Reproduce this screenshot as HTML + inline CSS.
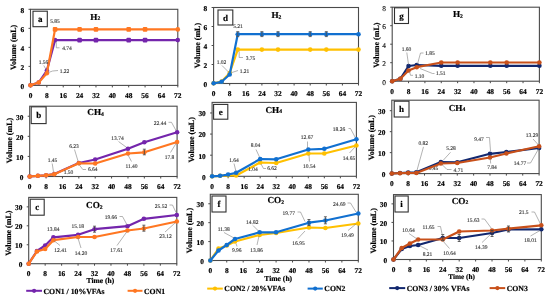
<!DOCTYPE html>
<html><head><meta charset="utf-8"><style>
html,body{margin:0;padding:0;background:#fff;width:550px;height:299px;overflow:hidden}
svg{display:block;will-change:transform;text-rendering:geometricPrecision}
</style></head><body>
<svg width="550" height="299" viewBox="0 0 550 299" font-family="'Liberation Serif', serif">
<rect width="550" height="299" fill="#fff"/>
<rect x="30.5" y="9.3" width="147.30" height="76.10" fill="none" stroke="#4a4a4a" stroke-width="1.1"/>
<line x1="28.50" y1="85.40" x2="30.5" y2="85.40" stroke="#4a4a4a" stroke-width="1"/>
<text x="24.20" y="88.80" font-size="7.4" font-weight="bold" text-anchor="end" fill="#000" stroke="#000" stroke-width="0.18" >0</text>
<line x1="28.50" y1="66.38" x2="30.5" y2="66.38" stroke="#4a4a4a" stroke-width="1"/>
<text x="24.20" y="69.78" font-size="7.4" font-weight="bold" text-anchor="end" fill="#000" stroke="#000" stroke-width="0.18" >2</text>
<line x1="28.50" y1="47.35" x2="30.5" y2="47.35" stroke="#4a4a4a" stroke-width="1"/>
<text x="24.20" y="50.75" font-size="7.4" font-weight="bold" text-anchor="end" fill="#000" stroke="#000" stroke-width="0.18" >4</text>
<line x1="28.50" y1="28.33" x2="30.5" y2="28.33" stroke="#4a4a4a" stroke-width="1"/>
<text x="24.20" y="31.73" font-size="7.4" font-weight="bold" text-anchor="end" fill="#000" stroke="#000" stroke-width="0.18" >6</text>
<line x1="28.50" y1="9.30" x2="30.5" y2="9.30" stroke="#4a4a4a" stroke-width="1"/>
<text x="24.20" y="12.70" font-size="7.4" font-weight="bold" text-anchor="end" fill="#000" stroke="#000" stroke-width="0.18" >8</text>
<line x1="30.50" y1="85.4" x2="30.50" y2="87.40" stroke="#4a4a4a" stroke-width="1"/>
<text x="30.50" y="98.30" font-size="7.4" font-weight="bold" text-anchor="middle" fill="#000" stroke="#000" stroke-width="0.18" >0</text>
<line x1="46.87" y1="85.4" x2="46.87" y2="87.40" stroke="#4a4a4a" stroke-width="1"/>
<text x="46.87" y="98.30" font-size="7.4" font-weight="bold" text-anchor="middle" fill="#000" stroke="#000" stroke-width="0.18" >8</text>
<line x1="63.23" y1="85.4" x2="63.23" y2="87.40" stroke="#4a4a4a" stroke-width="1"/>
<text x="63.23" y="98.30" font-size="7.4" font-weight="bold" text-anchor="middle" fill="#000" stroke="#000" stroke-width="0.18" >16</text>
<line x1="79.60" y1="85.4" x2="79.60" y2="87.40" stroke="#4a4a4a" stroke-width="1"/>
<text x="79.60" y="98.30" font-size="7.4" font-weight="bold" text-anchor="middle" fill="#000" stroke="#000" stroke-width="0.18" >24</text>
<line x1="95.97" y1="85.4" x2="95.97" y2="87.40" stroke="#4a4a4a" stroke-width="1"/>
<text x="95.97" y="98.30" font-size="7.4" font-weight="bold" text-anchor="middle" fill="#000" stroke="#000" stroke-width="0.18" >32</text>
<line x1="112.33" y1="85.4" x2="112.33" y2="87.40" stroke="#4a4a4a" stroke-width="1"/>
<text x="112.33" y="98.30" font-size="7.4" font-weight="bold" text-anchor="middle" fill="#000" stroke="#000" stroke-width="0.18" >40</text>
<line x1="128.70" y1="85.4" x2="128.70" y2="87.40" stroke="#4a4a4a" stroke-width="1"/>
<text x="128.70" y="98.30" font-size="7.4" font-weight="bold" text-anchor="middle" fill="#000" stroke="#000" stroke-width="0.18" >48</text>
<line x1="145.07" y1="85.4" x2="145.07" y2="87.40" stroke="#4a4a4a" stroke-width="1"/>
<text x="145.07" y="98.30" font-size="7.4" font-weight="bold" text-anchor="middle" fill="#000" stroke="#000" stroke-width="0.18" >56</text>
<line x1="161.43" y1="85.4" x2="161.43" y2="87.40" stroke="#4a4a4a" stroke-width="1"/>
<text x="161.43" y="98.30" font-size="7.4" font-weight="bold" text-anchor="middle" fill="#000" stroke="#000" stroke-width="0.18" >64</text>
<line x1="177.80" y1="85.4" x2="177.80" y2="87.40" stroke="#4a4a4a" stroke-width="1"/>
<text x="177.80" y="98.30" font-size="7.4" font-weight="bold" text-anchor="middle" fill="#000" stroke="#000" stroke-width="0.18" >72</text>
<text x="14.0" y="47.4" font-size="8" font-weight="bold" text-anchor="middle" transform="rotate(-90 14.0 47.4)" dominant-baseline="central" stroke="#000" stroke-width="0.18">Volume (mL)</text>
<rect x="213.6" y="7.5" width="144.90" height="76.00" fill="none" stroke="#4a4a4a" stroke-width="1.1"/>
<line x1="211.60" y1="83.50" x2="213.6" y2="83.50" stroke="#4a4a4a" stroke-width="1"/>
<text x="207.30" y="86.90" font-size="7.4" font-weight="bold" text-anchor="end" fill="#000" stroke="#000" stroke-width="0.18" >0</text>
<line x1="211.60" y1="64.50" x2="213.6" y2="64.50" stroke="#4a4a4a" stroke-width="1"/>
<text x="207.30" y="67.90" font-size="7.4" font-weight="bold" text-anchor="end" fill="#000" stroke="#000" stroke-width="0.18" >2</text>
<line x1="211.60" y1="45.50" x2="213.6" y2="45.50" stroke="#4a4a4a" stroke-width="1"/>
<text x="207.30" y="48.90" font-size="7.4" font-weight="bold" text-anchor="end" fill="#000" stroke="#000" stroke-width="0.18" >4</text>
<line x1="211.60" y1="26.50" x2="213.6" y2="26.50" stroke="#4a4a4a" stroke-width="1"/>
<text x="207.30" y="29.90" font-size="7.4" font-weight="bold" text-anchor="end" fill="#000" stroke="#000" stroke-width="0.18" >6</text>
<line x1="211.60" y1="7.50" x2="213.6" y2="7.50" stroke="#4a4a4a" stroke-width="1"/>
<text x="207.30" y="10.90" font-size="7.4" font-weight="bold" text-anchor="end" fill="#000" stroke="#000" stroke-width="0.18" >8</text>
<line x1="213.60" y1="83.5" x2="213.60" y2="85.50" stroke="#4a4a4a" stroke-width="1"/>
<text x="213.60" y="96.40" font-size="7.4" font-weight="bold" text-anchor="middle" fill="#000" stroke="#000" stroke-width="0.18" >0</text>
<line x1="229.70" y1="83.5" x2="229.70" y2="85.50" stroke="#4a4a4a" stroke-width="1"/>
<text x="229.70" y="96.40" font-size="7.4" font-weight="bold" text-anchor="middle" fill="#000" stroke="#000" stroke-width="0.18" >8</text>
<line x1="245.80" y1="83.5" x2="245.80" y2="85.50" stroke="#4a4a4a" stroke-width="1"/>
<text x="245.80" y="96.40" font-size="7.4" font-weight="bold" text-anchor="middle" fill="#000" stroke="#000" stroke-width="0.18" >16</text>
<line x1="261.90" y1="83.5" x2="261.90" y2="85.50" stroke="#4a4a4a" stroke-width="1"/>
<text x="261.90" y="96.40" font-size="7.4" font-weight="bold" text-anchor="middle" fill="#000" stroke="#000" stroke-width="0.18" >24</text>
<line x1="278.00" y1="83.5" x2="278.00" y2="85.50" stroke="#4a4a4a" stroke-width="1"/>
<text x="278.00" y="96.40" font-size="7.4" font-weight="bold" text-anchor="middle" fill="#000" stroke="#000" stroke-width="0.18" >32</text>
<line x1="294.10" y1="83.5" x2="294.10" y2="85.50" stroke="#4a4a4a" stroke-width="1"/>
<text x="294.10" y="96.40" font-size="7.4" font-weight="bold" text-anchor="middle" fill="#000" stroke="#000" stroke-width="0.18" >40</text>
<line x1="310.20" y1="83.5" x2="310.20" y2="85.50" stroke="#4a4a4a" stroke-width="1"/>
<text x="310.20" y="96.40" font-size="7.4" font-weight="bold" text-anchor="middle" fill="#000" stroke="#000" stroke-width="0.18" >48</text>
<line x1="326.30" y1="83.5" x2="326.30" y2="85.50" stroke="#4a4a4a" stroke-width="1"/>
<text x="326.30" y="96.40" font-size="7.4" font-weight="bold" text-anchor="middle" fill="#000" stroke="#000" stroke-width="0.18" >56</text>
<line x1="342.40" y1="83.5" x2="342.40" y2="85.50" stroke="#4a4a4a" stroke-width="1"/>
<text x="342.40" y="96.40" font-size="7.4" font-weight="bold" text-anchor="middle" fill="#000" stroke="#000" stroke-width="0.18" >64</text>
<line x1="358.50" y1="83.5" x2="358.50" y2="85.50" stroke="#4a4a4a" stroke-width="1"/>
<text x="358.50" y="96.40" font-size="7.4" font-weight="bold" text-anchor="middle" fill="#000" stroke="#000" stroke-width="0.18" >72</text>
<text x="197.9" y="45.5" font-size="8" font-weight="bold" text-anchor="middle" transform="rotate(-90 197.9 45.5)" dominant-baseline="central" stroke="#000" stroke-width="0.18">Volume (mL)</text>
<rect x="392.2" y="7.2" width="147.20" height="74.00" fill="none" stroke="#4a4a4a" stroke-width="1.1"/>
<line x1="390.20" y1="81.20" x2="392.2" y2="81.20" stroke="#4a4a4a" stroke-width="1"/>
<text x="385.90" y="84.60" font-size="7.4" font-weight="normal" text-anchor="end" fill="#000" stroke="#000" stroke-width="0.1" >0</text>
<line x1="390.20" y1="62.70" x2="392.2" y2="62.70" stroke="#4a4a4a" stroke-width="1"/>
<text x="385.90" y="66.10" font-size="7.4" font-weight="normal" text-anchor="end" fill="#000" stroke="#000" stroke-width="0.1" >2</text>
<line x1="390.20" y1="44.20" x2="392.2" y2="44.20" stroke="#4a4a4a" stroke-width="1"/>
<text x="385.90" y="47.60" font-size="7.4" font-weight="normal" text-anchor="end" fill="#000" stroke="#000" stroke-width="0.1" >4</text>
<line x1="390.20" y1="25.70" x2="392.2" y2="25.70" stroke="#4a4a4a" stroke-width="1"/>
<text x="385.90" y="29.10" font-size="7.4" font-weight="normal" text-anchor="end" fill="#000" stroke="#000" stroke-width="0.1" >6</text>
<line x1="390.20" y1="7.20" x2="392.2" y2="7.20" stroke="#4a4a4a" stroke-width="1"/>
<text x="385.90" y="10.60" font-size="7.4" font-weight="normal" text-anchor="end" fill="#000" stroke="#000" stroke-width="0.1" >8</text>
<line x1="392.20" y1="81.2" x2="392.20" y2="83.20" stroke="#4a4a4a" stroke-width="1"/>
<text x="392.20" y="94.10" font-size="7.4" font-weight="bold" text-anchor="middle" fill="#000" stroke="#000" stroke-width="0.18" >0</text>
<line x1="408.56" y1="81.2" x2="408.56" y2="83.20" stroke="#4a4a4a" stroke-width="1"/>
<text x="408.56" y="94.10" font-size="7.4" font-weight="bold" text-anchor="middle" fill="#000" stroke="#000" stroke-width="0.18" >8</text>
<line x1="424.91" y1="81.2" x2="424.91" y2="83.20" stroke="#4a4a4a" stroke-width="1"/>
<text x="424.91" y="94.10" font-size="7.4" font-weight="bold" text-anchor="middle" fill="#000" stroke="#000" stroke-width="0.18" >16</text>
<line x1="441.27" y1="81.2" x2="441.27" y2="83.20" stroke="#4a4a4a" stroke-width="1"/>
<text x="441.27" y="94.10" font-size="7.4" font-weight="bold" text-anchor="middle" fill="#000" stroke="#000" stroke-width="0.18" >24</text>
<line x1="457.62" y1="81.2" x2="457.62" y2="83.20" stroke="#4a4a4a" stroke-width="1"/>
<text x="457.62" y="94.10" font-size="7.4" font-weight="bold" text-anchor="middle" fill="#000" stroke="#000" stroke-width="0.18" >32</text>
<line x1="473.98" y1="81.2" x2="473.98" y2="83.20" stroke="#4a4a4a" stroke-width="1"/>
<text x="473.98" y="94.10" font-size="7.4" font-weight="bold" text-anchor="middle" fill="#000" stroke="#000" stroke-width="0.18" >40</text>
<line x1="490.33" y1="81.2" x2="490.33" y2="83.20" stroke="#4a4a4a" stroke-width="1"/>
<text x="490.33" y="94.10" font-size="7.4" font-weight="bold" text-anchor="middle" fill="#000" stroke="#000" stroke-width="0.18" >48</text>
<line x1="506.69" y1="81.2" x2="506.69" y2="83.20" stroke="#4a4a4a" stroke-width="1"/>
<text x="506.69" y="94.10" font-size="7.4" font-weight="bold" text-anchor="middle" fill="#000" stroke="#000" stroke-width="0.18" >56</text>
<line x1="523.04" y1="81.2" x2="523.04" y2="83.20" stroke="#4a4a4a" stroke-width="1"/>
<text x="523.04" y="94.10" font-size="7.4" font-weight="bold" text-anchor="middle" fill="#000" stroke="#000" stroke-width="0.18" >64</text>
<line x1="539.40" y1="81.2" x2="539.40" y2="83.20" stroke="#4a4a4a" stroke-width="1"/>
<text x="539.40" y="94.10" font-size="7.4" font-weight="bold" text-anchor="middle" fill="#000" stroke="#000" stroke-width="0.18" >72</text>
<text x="376.3" y="45.2" font-size="8" font-weight="bold" text-anchor="middle" transform="rotate(-90 376.3 45.2)" dominant-baseline="central" stroke="#000" stroke-width="0.18">Volume (mL)</text>
<rect x="29.7" y="106.2" width="147.40" height="70.30" fill="none" stroke="#4a4a4a" stroke-width="1.1"/>
<line x1="27.70" y1="176.50" x2="29.7" y2="176.50" stroke="#4a4a4a" stroke-width="1"/>
<text x="23.40" y="179.90" font-size="7.4" font-weight="bold" text-anchor="end" fill="#000" stroke="#000" stroke-width="0.18" >0</text>
<line x1="27.70" y1="156.41" x2="29.7" y2="156.41" stroke="#4a4a4a" stroke-width="1"/>
<text x="23.40" y="159.81" font-size="7.4" font-weight="bold" text-anchor="end" fill="#000" stroke="#000" stroke-width="0.18" >10</text>
<line x1="27.70" y1="136.33" x2="29.7" y2="136.33" stroke="#4a4a4a" stroke-width="1"/>
<text x="23.40" y="139.73" font-size="7.4" font-weight="bold" text-anchor="end" fill="#000" stroke="#000" stroke-width="0.18" >20</text>
<line x1="27.70" y1="116.24" x2="29.7" y2="116.24" stroke="#4a4a4a" stroke-width="1"/>
<text x="23.40" y="119.64" font-size="7.4" font-weight="bold" text-anchor="end" fill="#000" stroke="#000" stroke-width="0.18" >30</text>
<line x1="29.70" y1="176.5" x2="29.70" y2="178.50" stroke="#4a4a4a" stroke-width="1"/>
<text x="29.70" y="189.40" font-size="7.4" font-weight="bold" text-anchor="middle" fill="#000" stroke="#000" stroke-width="0.18" >0</text>
<line x1="46.08" y1="176.5" x2="46.08" y2="178.50" stroke="#4a4a4a" stroke-width="1"/>
<text x="46.08" y="189.40" font-size="7.4" font-weight="bold" text-anchor="middle" fill="#000" stroke="#000" stroke-width="0.18" >8</text>
<line x1="62.46" y1="176.5" x2="62.46" y2="178.50" stroke="#4a4a4a" stroke-width="1"/>
<text x="62.46" y="189.40" font-size="7.4" font-weight="bold" text-anchor="middle" fill="#000" stroke="#000" stroke-width="0.18" >16</text>
<line x1="78.83" y1="176.5" x2="78.83" y2="178.50" stroke="#4a4a4a" stroke-width="1"/>
<text x="78.83" y="189.40" font-size="7.4" font-weight="bold" text-anchor="middle" fill="#000" stroke="#000" stroke-width="0.18" >24</text>
<line x1="95.21" y1="176.5" x2="95.21" y2="178.50" stroke="#4a4a4a" stroke-width="1"/>
<text x="95.21" y="189.40" font-size="7.4" font-weight="bold" text-anchor="middle" fill="#000" stroke="#000" stroke-width="0.18" >32</text>
<line x1="111.59" y1="176.5" x2="111.59" y2="178.50" stroke="#4a4a4a" stroke-width="1"/>
<text x="111.59" y="189.40" font-size="7.4" font-weight="bold" text-anchor="middle" fill="#000" stroke="#000" stroke-width="0.18" >40</text>
<line x1="127.97" y1="176.5" x2="127.97" y2="178.50" stroke="#4a4a4a" stroke-width="1"/>
<text x="127.97" y="189.40" font-size="7.4" font-weight="bold" text-anchor="middle" fill="#000" stroke="#000" stroke-width="0.18" >48</text>
<line x1="144.34" y1="176.5" x2="144.34" y2="178.50" stroke="#4a4a4a" stroke-width="1"/>
<text x="144.34" y="189.40" font-size="7.4" font-weight="bold" text-anchor="middle" fill="#000" stroke="#000" stroke-width="0.18" >56</text>
<line x1="160.72" y1="176.5" x2="160.72" y2="178.50" stroke="#4a4a4a" stroke-width="1"/>
<text x="160.72" y="189.40" font-size="7.4" font-weight="bold" text-anchor="middle" fill="#000" stroke="#000" stroke-width="0.18" >64</text>
<line x1="177.10" y1="176.5" x2="177.10" y2="178.50" stroke="#4a4a4a" stroke-width="1"/>
<text x="177.10" y="189.40" font-size="7.4" font-weight="bold" text-anchor="middle" fill="#000" stroke="#000" stroke-width="0.18" >72</text>
<text x="9.6" y="140.5" font-size="8" font-weight="bold" text-anchor="middle" transform="rotate(-90 9.6 140.5)" dominant-baseline="central" stroke="#000" stroke-width="0.18">Volume (mL)</text>
<rect x="212.1" y="102.4" width="144.30" height="73.90" fill="none" stroke="#4a4a4a" stroke-width="1.1"/>
<line x1="210.10" y1="176.30" x2="212.1" y2="176.30" stroke="#4a4a4a" stroke-width="1"/>
<text x="205.80" y="179.70" font-size="7.4" font-weight="bold" text-anchor="end" fill="#000" stroke="#000" stroke-width="0.18" >0</text>
<line x1="210.10" y1="155.19" x2="212.1" y2="155.19" stroke="#4a4a4a" stroke-width="1"/>
<text x="205.80" y="158.59" font-size="7.4" font-weight="bold" text-anchor="end" fill="#000" stroke="#000" stroke-width="0.18" >10</text>
<line x1="210.10" y1="134.07" x2="212.1" y2="134.07" stroke="#4a4a4a" stroke-width="1"/>
<text x="205.80" y="137.47" font-size="7.4" font-weight="bold" text-anchor="end" fill="#000" stroke="#000" stroke-width="0.18" >20</text>
<line x1="210.10" y1="112.96" x2="212.1" y2="112.96" stroke="#4a4a4a" stroke-width="1"/>
<text x="205.80" y="116.36" font-size="7.4" font-weight="bold" text-anchor="end" fill="#000" stroke="#000" stroke-width="0.18" >30</text>
<line x1="212.10" y1="176.3" x2="212.10" y2="178.30" stroke="#4a4a4a" stroke-width="1"/>
<text x="212.10" y="189.20" font-size="7.4" font-weight="bold" text-anchor="middle" fill="#000" stroke="#000" stroke-width="0.18" >0</text>
<line x1="228.13" y1="176.3" x2="228.13" y2="178.30" stroke="#4a4a4a" stroke-width="1"/>
<text x="228.13" y="189.20" font-size="7.4" font-weight="bold" text-anchor="middle" fill="#000" stroke="#000" stroke-width="0.18" >8</text>
<line x1="244.17" y1="176.3" x2="244.17" y2="178.30" stroke="#4a4a4a" stroke-width="1"/>
<text x="244.17" y="189.20" font-size="7.4" font-weight="bold" text-anchor="middle" fill="#000" stroke="#000" stroke-width="0.18" >16</text>
<line x1="260.20" y1="176.3" x2="260.20" y2="178.30" stroke="#4a4a4a" stroke-width="1"/>
<text x="260.20" y="189.20" font-size="7.4" font-weight="bold" text-anchor="middle" fill="#000" stroke="#000" stroke-width="0.18" >24</text>
<line x1="276.23" y1="176.3" x2="276.23" y2="178.30" stroke="#4a4a4a" stroke-width="1"/>
<text x="276.23" y="189.20" font-size="7.4" font-weight="bold" text-anchor="middle" fill="#000" stroke="#000" stroke-width="0.18" >32</text>
<line x1="292.27" y1="176.3" x2="292.27" y2="178.30" stroke="#4a4a4a" stroke-width="1"/>
<text x="292.27" y="189.20" font-size="7.4" font-weight="bold" text-anchor="middle" fill="#000" stroke="#000" stroke-width="0.18" >40</text>
<line x1="308.30" y1="176.3" x2="308.30" y2="178.30" stroke="#4a4a4a" stroke-width="1"/>
<text x="308.30" y="189.20" font-size="7.4" font-weight="bold" text-anchor="middle" fill="#000" stroke="#000" stroke-width="0.18" >48</text>
<line x1="324.33" y1="176.3" x2="324.33" y2="178.30" stroke="#4a4a4a" stroke-width="1"/>
<text x="324.33" y="189.20" font-size="7.4" font-weight="bold" text-anchor="middle" fill="#000" stroke="#000" stroke-width="0.18" >56</text>
<line x1="340.37" y1="176.3" x2="340.37" y2="178.30" stroke="#4a4a4a" stroke-width="1"/>
<text x="340.37" y="189.20" font-size="7.4" font-weight="bold" text-anchor="middle" fill="#000" stroke="#000" stroke-width="0.18" >64</text>
<line x1="356.40" y1="176.3" x2="356.40" y2="178.30" stroke="#4a4a4a" stroke-width="1"/>
<text x="356.40" y="189.20" font-size="7.4" font-weight="bold" text-anchor="middle" fill="#000" stroke="#000" stroke-width="0.18" >72</text>
<text x="191.9" y="139.8" font-size="8" font-weight="bold" text-anchor="middle" transform="rotate(-90 191.9 139.8)" dominant-baseline="central" stroke="#000" stroke-width="0.18">Volume (mL)</text>
<rect x="391.8" y="100.2" width="147.30" height="73.40" fill="none" stroke="#4a4a4a" stroke-width="1.1"/>
<line x1="389.80" y1="173.60" x2="391.8" y2="173.60" stroke="#4a4a4a" stroke-width="1"/>
<text x="385.50" y="177.00" font-size="7.4" font-weight="bold" text-anchor="end" fill="#000" stroke="#000" stroke-width="0.18" >0</text>
<line x1="389.80" y1="152.63" x2="391.8" y2="152.63" stroke="#4a4a4a" stroke-width="1"/>
<text x="385.50" y="156.03" font-size="7.4" font-weight="bold" text-anchor="end" fill="#000" stroke="#000" stroke-width="0.18" >10</text>
<line x1="389.80" y1="131.66" x2="391.8" y2="131.66" stroke="#4a4a4a" stroke-width="1"/>
<text x="385.50" y="135.06" font-size="7.4" font-weight="bold" text-anchor="end" fill="#000" stroke="#000" stroke-width="0.18" >20</text>
<line x1="389.80" y1="110.69" x2="391.8" y2="110.69" stroke="#4a4a4a" stroke-width="1"/>
<text x="385.50" y="114.09" font-size="7.4" font-weight="bold" text-anchor="end" fill="#000" stroke="#000" stroke-width="0.18" >30</text>
<line x1="391.80" y1="173.6" x2="391.80" y2="175.60" stroke="#4a4a4a" stroke-width="1"/>
<text x="391.80" y="185.90" font-size="7.4" font-weight="bold" text-anchor="middle" fill="#000" stroke="#000" stroke-width="0.18" >0</text>
<line x1="408.17" y1="173.6" x2="408.17" y2="175.60" stroke="#4a4a4a" stroke-width="1"/>
<text x="408.17" y="185.90" font-size="7.4" font-weight="bold" text-anchor="middle" fill="#000" stroke="#000" stroke-width="0.18" >8</text>
<line x1="424.53" y1="173.6" x2="424.53" y2="175.60" stroke="#4a4a4a" stroke-width="1"/>
<text x="424.53" y="185.90" font-size="7.4" font-weight="bold" text-anchor="middle" fill="#000" stroke="#000" stroke-width="0.18" >16</text>
<line x1="440.90" y1="173.6" x2="440.90" y2="175.60" stroke="#4a4a4a" stroke-width="1"/>
<text x="440.90" y="185.90" font-size="7.4" font-weight="bold" text-anchor="middle" fill="#000" stroke="#000" stroke-width="0.18" >24</text>
<line x1="457.27" y1="173.6" x2="457.27" y2="175.60" stroke="#4a4a4a" stroke-width="1"/>
<text x="457.27" y="185.90" font-size="7.4" font-weight="bold" text-anchor="middle" fill="#000" stroke="#000" stroke-width="0.18" >32</text>
<line x1="473.63" y1="173.6" x2="473.63" y2="175.60" stroke="#4a4a4a" stroke-width="1"/>
<text x="473.63" y="185.90" font-size="7.4" font-weight="bold" text-anchor="middle" fill="#000" stroke="#000" stroke-width="0.18" >40</text>
<line x1="490.00" y1="173.6" x2="490.00" y2="175.60" stroke="#4a4a4a" stroke-width="1"/>
<text x="490.00" y="185.90" font-size="7.4" font-weight="bold" text-anchor="middle" fill="#000" stroke="#000" stroke-width="0.18" >48</text>
<line x1="506.37" y1="173.6" x2="506.37" y2="175.60" stroke="#4a4a4a" stroke-width="1"/>
<text x="506.37" y="185.90" font-size="7.4" font-weight="bold" text-anchor="middle" fill="#000" stroke="#000" stroke-width="0.18" >56</text>
<line x1="522.73" y1="173.6" x2="522.73" y2="175.60" stroke="#4a4a4a" stroke-width="1"/>
<text x="522.73" y="185.90" font-size="7.4" font-weight="bold" text-anchor="middle" fill="#000" stroke="#000" stroke-width="0.18" >64</text>
<line x1="539.10" y1="173.6" x2="539.10" y2="175.60" stroke="#4a4a4a" stroke-width="1"/>
<text x="539.10" y="185.90" font-size="7.4" font-weight="bold" text-anchor="middle" fill="#000" stroke="#000" stroke-width="0.18" >72</text>
<text x="371.6" y="137.6" font-size="8" font-weight="bold" text-anchor="middle" transform="rotate(-90 371.6 137.6)" dominant-baseline="central" stroke="#000" stroke-width="0.18">Volume (mL)</text>
<rect x="28.7" y="197.4" width="148.10" height="66.30" fill="none" stroke="#4a4a4a" stroke-width="1.1"/>
<line x1="26.70" y1="263.70" x2="28.7" y2="263.70" stroke="#4a4a4a" stroke-width="1"/>
<text x="22.40" y="267.10" font-size="7.4" font-weight="bold" text-anchor="end" fill="#000" stroke="#000" stroke-width="0.18" >0</text>
<line x1="26.70" y1="244.76" x2="28.7" y2="244.76" stroke="#4a4a4a" stroke-width="1"/>
<text x="22.40" y="248.16" font-size="7.4" font-weight="bold" text-anchor="end" fill="#000" stroke="#000" stroke-width="0.18" >10</text>
<line x1="26.70" y1="225.81" x2="28.7" y2="225.81" stroke="#4a4a4a" stroke-width="1"/>
<text x="22.40" y="229.21" font-size="7.4" font-weight="bold" text-anchor="end" fill="#000" stroke="#000" stroke-width="0.18" >20</text>
<line x1="26.70" y1="206.87" x2="28.7" y2="206.87" stroke="#4a4a4a" stroke-width="1"/>
<text x="22.40" y="210.27" font-size="7.4" font-weight="bold" text-anchor="end" fill="#000" stroke="#000" stroke-width="0.18" >30</text>
<line x1="28.70" y1="263.7" x2="28.70" y2="265.70" stroke="#4a4a4a" stroke-width="1"/>
<text x="28.70" y="275.60" font-size="7.4" font-weight="bold" text-anchor="middle" fill="#000" stroke="#000" stroke-width="0.18" >0</text>
<line x1="45.16" y1="263.7" x2="45.16" y2="265.70" stroke="#4a4a4a" stroke-width="1"/>
<text x="45.16" y="275.60" font-size="7.4" font-weight="bold" text-anchor="middle" fill="#000" stroke="#000" stroke-width="0.18" >8</text>
<line x1="61.61" y1="263.7" x2="61.61" y2="265.70" stroke="#4a4a4a" stroke-width="1"/>
<text x="61.61" y="275.60" font-size="7.4" font-weight="bold" text-anchor="middle" fill="#000" stroke="#000" stroke-width="0.18" >16</text>
<line x1="78.07" y1="263.7" x2="78.07" y2="265.70" stroke="#4a4a4a" stroke-width="1"/>
<text x="78.07" y="275.60" font-size="7.4" font-weight="bold" text-anchor="middle" fill="#000" stroke="#000" stroke-width="0.18" >24</text>
<line x1="94.52" y1="263.7" x2="94.52" y2="265.70" stroke="#4a4a4a" stroke-width="1"/>
<text x="94.52" y="275.60" font-size="7.4" font-weight="bold" text-anchor="middle" fill="#000" stroke="#000" stroke-width="0.18" >32</text>
<line x1="110.98" y1="263.7" x2="110.98" y2="265.70" stroke="#4a4a4a" stroke-width="1"/>
<text x="110.98" y="275.60" font-size="7.4" font-weight="bold" text-anchor="middle" fill="#000" stroke="#000" stroke-width="0.18" >40</text>
<line x1="127.43" y1="263.7" x2="127.43" y2="265.70" stroke="#4a4a4a" stroke-width="1"/>
<text x="127.43" y="275.60" font-size="7.4" font-weight="bold" text-anchor="middle" fill="#000" stroke="#000" stroke-width="0.18" >48</text>
<line x1="143.89" y1="263.7" x2="143.89" y2="265.70" stroke="#4a4a4a" stroke-width="1"/>
<text x="143.89" y="275.60" font-size="7.4" font-weight="bold" text-anchor="middle" fill="#000" stroke="#000" stroke-width="0.18" >56</text>
<line x1="160.34" y1="263.7" x2="160.34" y2="265.70" stroke="#4a4a4a" stroke-width="1"/>
<text x="160.34" y="275.60" font-size="7.4" font-weight="bold" text-anchor="middle" fill="#000" stroke="#000" stroke-width="0.18" >64</text>
<line x1="176.80" y1="263.7" x2="176.80" y2="265.70" stroke="#4a4a4a" stroke-width="1"/>
<text x="176.80" y="275.60" font-size="7.4" font-weight="bold" text-anchor="middle" fill="#000" stroke="#000" stroke-width="0.18" >72</text>
<text x="8.5" y="233.2" font-size="8" font-weight="bold" text-anchor="middle" transform="rotate(-90 8.5 233.2)" dominant-baseline="central" stroke="#000" stroke-width="0.18">Volume (mL)</text>
<text x="100.4" y="283.4" font-size="7.5" font-weight="bold" text-anchor="middle" fill="#000" stroke="#000" stroke-width="0.18" >Time (h)</text>
<rect x="210.3" y="194.3" width="148.00" height="66.20" fill="none" stroke="#4a4a4a" stroke-width="1.1"/>
<line x1="208.30" y1="260.50" x2="210.3" y2="260.50" stroke="#4a4a4a" stroke-width="1"/>
<text x="204.00" y="263.90" font-size="7.4" font-weight="bold" text-anchor="end" fill="#000" stroke="#000" stroke-width="0.18" >0</text>
<line x1="208.30" y1="241.59" x2="210.3" y2="241.59" stroke="#4a4a4a" stroke-width="1"/>
<text x="204.00" y="244.99" font-size="7.4" font-weight="bold" text-anchor="end" fill="#000" stroke="#000" stroke-width="0.18" >10</text>
<line x1="208.30" y1="222.67" x2="210.3" y2="222.67" stroke="#4a4a4a" stroke-width="1"/>
<text x="204.00" y="226.07" font-size="7.4" font-weight="bold" text-anchor="end" fill="#000" stroke="#000" stroke-width="0.18" >20</text>
<line x1="208.30" y1="203.76" x2="210.3" y2="203.76" stroke="#4a4a4a" stroke-width="1"/>
<text x="204.00" y="207.16" font-size="7.4" font-weight="bold" text-anchor="end" fill="#000" stroke="#000" stroke-width="0.18" >30</text>
<line x1="210.30" y1="260.5" x2="210.30" y2="262.50" stroke="#4a4a4a" stroke-width="1"/>
<text x="210.30" y="273.40" font-size="7.4" font-weight="bold" text-anchor="middle" fill="#000" stroke="#000" stroke-width="0.18" >0</text>
<line x1="226.74" y1="260.5" x2="226.74" y2="262.50" stroke="#4a4a4a" stroke-width="1"/>
<text x="226.74" y="273.40" font-size="7.4" font-weight="bold" text-anchor="middle" fill="#000" stroke="#000" stroke-width="0.18" >8</text>
<line x1="243.19" y1="260.5" x2="243.19" y2="262.50" stroke="#4a4a4a" stroke-width="1"/>
<text x="243.19" y="273.40" font-size="7.4" font-weight="bold" text-anchor="middle" fill="#000" stroke="#000" stroke-width="0.18" >16</text>
<line x1="259.63" y1="260.5" x2="259.63" y2="262.50" stroke="#4a4a4a" stroke-width="1"/>
<text x="259.63" y="273.40" font-size="7.4" font-weight="bold" text-anchor="middle" fill="#000" stroke="#000" stroke-width="0.18" >24</text>
<line x1="276.08" y1="260.5" x2="276.08" y2="262.50" stroke="#4a4a4a" stroke-width="1"/>
<text x="276.08" y="273.40" font-size="7.4" font-weight="bold" text-anchor="middle" fill="#000" stroke="#000" stroke-width="0.18" >32</text>
<line x1="292.52" y1="260.5" x2="292.52" y2="262.50" stroke="#4a4a4a" stroke-width="1"/>
<text x="292.52" y="273.40" font-size="7.4" font-weight="bold" text-anchor="middle" fill="#000" stroke="#000" stroke-width="0.18" >40</text>
<line x1="308.97" y1="260.5" x2="308.97" y2="262.50" stroke="#4a4a4a" stroke-width="1"/>
<text x="308.97" y="273.40" font-size="7.4" font-weight="bold" text-anchor="middle" fill="#000" stroke="#000" stroke-width="0.18" >48</text>
<line x1="325.41" y1="260.5" x2="325.41" y2="262.50" stroke="#4a4a4a" stroke-width="1"/>
<text x="325.41" y="273.40" font-size="7.4" font-weight="bold" text-anchor="middle" fill="#000" stroke="#000" stroke-width="0.18" >56</text>
<line x1="341.86" y1="260.5" x2="341.86" y2="262.50" stroke="#4a4a4a" stroke-width="1"/>
<text x="341.86" y="273.40" font-size="7.4" font-weight="bold" text-anchor="middle" fill="#000" stroke="#000" stroke-width="0.18" >64</text>
<line x1="358.30" y1="260.5" x2="358.30" y2="262.50" stroke="#4a4a4a" stroke-width="1"/>
<text x="358.30" y="273.40" font-size="7.4" font-weight="bold" text-anchor="middle" fill="#000" stroke="#000" stroke-width="0.18" >72</text>
<text x="189.5" y="230.5" font-size="8" font-weight="bold" text-anchor="middle" transform="rotate(-90 189.5 230.5)" dominant-baseline="central" stroke="#000" stroke-width="0.18">Volume (mL)</text>
<text x="278.2" y="280.8" font-size="7.6" font-weight="bold" text-anchor="middle" fill="#000" stroke="#000" stroke-width="0.18" >Time (h)</text>
<rect x="393.5" y="194.6" width="147.80" height="64.90" fill="none" stroke="#4a4a4a" stroke-width="1.1"/>
<line x1="391.50" y1="259.50" x2="393.5" y2="259.50" stroke="#4a4a4a" stroke-width="1"/>
<text x="387.20" y="262.90" font-size="7.4" font-weight="bold" text-anchor="end" fill="#000" stroke="#000" stroke-width="0.18" >0</text>
<line x1="391.50" y1="240.96" x2="393.5" y2="240.96" stroke="#4a4a4a" stroke-width="1"/>
<text x="387.20" y="244.36" font-size="7.4" font-weight="bold" text-anchor="end" fill="#000" stroke="#000" stroke-width="0.18" >10</text>
<line x1="391.50" y1="222.41" x2="393.5" y2="222.41" stroke="#4a4a4a" stroke-width="1"/>
<text x="387.20" y="225.81" font-size="7.4" font-weight="bold" text-anchor="end" fill="#000" stroke="#000" stroke-width="0.18" >20</text>
<line x1="391.50" y1="203.87" x2="393.5" y2="203.87" stroke="#4a4a4a" stroke-width="1"/>
<text x="387.20" y="207.27" font-size="7.4" font-weight="bold" text-anchor="end" fill="#000" stroke="#000" stroke-width="0.18" >30</text>
<line x1="393.50" y1="259.5" x2="393.50" y2="261.50" stroke="#4a4a4a" stroke-width="1"/>
<text x="393.50" y="272.40" font-size="7.4" font-weight="bold" text-anchor="middle" fill="#000" stroke="#000" stroke-width="0.18" >0</text>
<line x1="409.92" y1="259.5" x2="409.92" y2="261.50" stroke="#4a4a4a" stroke-width="1"/>
<text x="409.92" y="272.40" font-size="7.4" font-weight="bold" text-anchor="middle" fill="#000" stroke="#000" stroke-width="0.18" >8</text>
<line x1="426.34" y1="259.5" x2="426.34" y2="261.50" stroke="#4a4a4a" stroke-width="1"/>
<text x="426.34" y="272.40" font-size="7.4" font-weight="bold" text-anchor="middle" fill="#000" stroke="#000" stroke-width="0.18" >16</text>
<line x1="442.77" y1="259.5" x2="442.77" y2="261.50" stroke="#4a4a4a" stroke-width="1"/>
<text x="442.77" y="272.40" font-size="7.4" font-weight="bold" text-anchor="middle" fill="#000" stroke="#000" stroke-width="0.18" >24</text>
<line x1="459.19" y1="259.5" x2="459.19" y2="261.50" stroke="#4a4a4a" stroke-width="1"/>
<text x="459.19" y="272.40" font-size="7.4" font-weight="bold" text-anchor="middle" fill="#000" stroke="#000" stroke-width="0.18" >32</text>
<line x1="475.61" y1="259.5" x2="475.61" y2="261.50" stroke="#4a4a4a" stroke-width="1"/>
<text x="475.61" y="272.40" font-size="7.4" font-weight="bold" text-anchor="middle" fill="#000" stroke="#000" stroke-width="0.18" >40</text>
<line x1="492.03" y1="259.5" x2="492.03" y2="261.50" stroke="#4a4a4a" stroke-width="1"/>
<text x="492.03" y="272.40" font-size="7.4" font-weight="bold" text-anchor="middle" fill="#000" stroke="#000" stroke-width="0.18" >48</text>
<line x1="508.46" y1="259.5" x2="508.46" y2="261.50" stroke="#4a4a4a" stroke-width="1"/>
<text x="508.46" y="272.40" font-size="7.4" font-weight="bold" text-anchor="middle" fill="#000" stroke="#000" stroke-width="0.18" >56</text>
<line x1="524.88" y1="259.5" x2="524.88" y2="261.50" stroke="#4a4a4a" stroke-width="1"/>
<text x="524.88" y="272.40" font-size="7.4" font-weight="bold" text-anchor="middle" fill="#000" stroke="#000" stroke-width="0.18" >64</text>
<line x1="541.30" y1="259.5" x2="541.30" y2="261.50" stroke="#4a4a4a" stroke-width="1"/>
<text x="541.30" y="272.40" font-size="7.4" font-weight="bold" text-anchor="middle" fill="#000" stroke="#000" stroke-width="0.18" >72</text>
<text x="373.4" y="230.8" font-size="8" font-weight="bold" text-anchor="middle" transform="rotate(-90 373.4 230.8)" dominant-baseline="central" stroke="#000" stroke-width="0.18">Volume (mL)</text>
<text x="461.6" y="279.2" font-size="7.25" font-weight="bold" text-anchor="middle" fill="#000" stroke="#000" stroke-width="0.18" >Time (h)</text>
<rect x="33" y="11.2" width="14.30" height="15.50" fill="#fff" stroke="#303030" stroke-width="1.1"/>
<text x="40.15" y="22.15" font-size="9" font-weight="bold" text-anchor="middle" fill="#000" stroke="#000" stroke-width="0.18" >a</text>
<text x="90.3" y="19.6" font-size="9.2" font-weight="bold" stroke="#000" stroke-width="0.18">H<tspan font-size="5.6" dy="0.4">2</tspan></text>
<polyline points="30.50,85.3 38.68,82.5 46.87,70.5 55.05,40.1 79.60,40.1 95.97,40.1 128.70,40.1 145.07,40.1 177.80,40.1" fill="none" stroke="#7425AC" stroke-width="2.2" stroke-linejoin="round"/>
<circle cx="30.50" cy="85.3" r="2.3" fill="#7425AC"/>
<circle cx="38.68" cy="82.5" r="2.3" fill="#7425AC"/>
<circle cx="46.87" cy="70.5" r="2.3" fill="#7425AC"/>
<circle cx="55.05" cy="40.1" r="2.3" fill="#7425AC"/>
<rect x="77.30" y="37.80" width="4.6" height="4.6" rx="1" fill="#7425AC"/>
<rect x="93.67" y="37.80" width="4.6" height="4.6" rx="1" fill="#7425AC"/>
<rect x="126.40" y="37.80" width="4.6" height="4.6" rx="1" fill="#7425AC"/>
<rect x="142.77" y="37.80" width="4.6" height="4.6" rx="1" fill="#7425AC"/>
<circle cx="177.80" cy="40.1" r="2.3" fill="#7425AC"/>
<polyline points="30.50,85.3 38.68,82.5 46.87,73.2 55.05,29.4 79.60,29.4 95.97,29.4 128.70,29.4 145.07,29.4 177.80,29.4" fill="none" stroke="#FF7722" stroke-width="2.2" stroke-linejoin="round"/>
<circle cx="30.50" cy="85.3" r="2.3" fill="#FF7722"/>
<circle cx="38.68" cy="82.5" r="2.3" fill="#FF7722"/>
<circle cx="46.87" cy="73.2" r="2.3" fill="#FF7722"/>
<rect x="52.75" y="27.10" width="4.6" height="4.6" rx="1" fill="#FF7722"/>
<rect x="77.30" y="27.10" width="4.6" height="4.6" rx="1" fill="#FF7722"/>
<rect x="93.67" y="27.10" width="4.6" height="4.6" rx="1" fill="#FF7722"/>
<rect x="126.40" y="27.10" width="4.6" height="4.6" rx="1" fill="#FF7722"/>
<rect x="142.77" y="27.10" width="4.6" height="4.6" rx="1" fill="#FF7722"/>
<circle cx="177.80" cy="29.4" r="2.3" fill="#FF7722"/>
<text x="55" y="22.80" font-size="5.5" font-weight="normal" text-anchor="middle" fill="#333333" stroke="#333333" stroke-width="0.1" >5.85</text>
<text x="43.5" y="64.10" font-size="5.5" font-weight="normal" text-anchor="middle" fill="#333333" stroke="#333333" stroke-width="0.1" >1.56</text>
<path d="M43.8,65.5 L46,69.5" stroke="#7f7f7f" stroke-width="0.6" fill="none"/>
<text x="64.5" y="73.30" font-size="5.5" font-weight="normal" text-anchor="middle" fill="#333333" stroke="#333333" stroke-width="0.1" >1.22</text>
<path d="M48.5,72.5 Q52,70.5 58,70.5" stroke="#7f7f7f" stroke-width="0.6" fill="none"/>
<text x="67" y="50.30" font-size="5.5" font-weight="normal" text-anchor="middle" fill="#333333" stroke="#333333" stroke-width="0.1" >4.74</text>
<path d="M56.3,41.5 V47.8 H59.5" stroke="#7f7f7f" stroke-width="0.6" fill="none"/>
<rect x="218" y="10" width="14.80" height="15.00" fill="#fff" stroke="#303030" stroke-width="1.1"/>
<text x="225.40" y="20.70" font-size="9" font-weight="bold" text-anchor="middle" fill="#000" stroke="#000" stroke-width="0.18" >d</text>
<text x="271.4" y="18.2" font-size="9.2" font-weight="bold" stroke="#000" stroke-width="0.18">H<tspan font-size="5.6" dy="0.4">2</tspan></text>
<polyline points="213.60,83.3 221.65,81.6 229.70,73.0 237.75,49.6 261.90,49.6 278.00,49.6 310.20,49.6 326.30,49.6 358.50,49.6" fill="none" stroke="#FFC000" stroke-width="2.2" stroke-linejoin="round"/>
<circle cx="213.60" cy="83.3" r="2.3" fill="#FFC000"/>
<circle cx="221.65" cy="81.6" r="2.3" fill="#FFC000"/>
<circle cx="229.70" cy="73.0" r="2.3" fill="#FFC000"/>
<circle cx="237.75" cy="49.6" r="2.3" fill="#FFC000"/>
<circle cx="261.90" cy="49.6" r="2.3" fill="#FFC000"/>
<circle cx="278.00" cy="49.6" r="2.3" fill="#FFC000"/>
<circle cx="310.20" cy="49.6" r="2.3" fill="#FFC000"/>
<circle cx="326.30" cy="49.6" r="2.3" fill="#FFC000"/>
<circle cx="358.50" cy="49.6" r="2.3" fill="#FFC000"/>
<polyline points="213.60,83.3 221.65,81.8 229.70,74.5 237.75,34.2 261.90,34.2 278.00,34.2 310.20,34.2 326.30,34.2 358.50,34.2" fill="none" stroke="#1170D0" stroke-width="2.2" stroke-linejoin="round"/>
<circle cx="213.60" cy="83.3" r="2.3" fill="#1170D0"/>
<circle cx="221.65" cy="81.8" r="2.3" fill="#1170D0"/>
<circle cx="229.70" cy="74.5" r="2.3" fill="#1170D0"/>
<circle cx="237.75" cy="34.2" r="2.3" fill="#1170D0"/>
<circle cx="261.90" cy="34.2" r="2.3" fill="#1170D0"/>
<circle cx="278.00" cy="34.2" r="2.3" fill="#1170D0"/>
<circle cx="310.20" cy="34.2" r="2.3" fill="#1170D0"/>
<circle cx="326.30" cy="34.2" r="2.3" fill="#1170D0"/>
<circle cx="358.50" cy="34.2" r="2.3" fill="#1170D0"/>
<path d="M236.25,31.6H239.25M237.75,31.6V36.6M236.25,36.6H239.25" stroke="#505050" stroke-width="0.8" fill="none"/>
<path d="M260.4,31.6H263.4M261.9,31.6V36.6M260.4,36.6H263.4" stroke="#505050" stroke-width="0.8" fill="none"/>
<path d="M276.5,31.6H279.5M278.0,31.6V36.6M276.5,36.6H279.5" stroke="#505050" stroke-width="0.8" fill="none"/>
<path d="M308.7,31.6H311.7M310.2,31.6V36.6M308.7,36.6H311.7" stroke="#505050" stroke-width="0.8" fill="none"/>
<path d="M324.8,31.6H327.8M326.3,31.6V36.6M324.8,36.6H327.8" stroke="#505050" stroke-width="0.8" fill="none"/>
<text x="238" y="27.80" font-size="5.5" font-weight="normal" text-anchor="middle" fill="#333333" stroke="#333333" stroke-width="0.1" >5.21</text>
<text x="221.5" y="64.30" font-size="5.5" font-weight="normal" text-anchor="middle" fill="#333333" stroke="#333333" stroke-width="0.1" >1.02</text>
<path d="M222,65.5 L229,72.5" stroke="#7f7f7f" stroke-width="0.6" fill="none"/>
<text x="244.5" y="72.80" font-size="5.5" font-weight="normal" text-anchor="middle" fill="#333333" stroke="#333333" stroke-width="0.1" >1.21</text>
<path d="M232,72.5 L238,70.5" stroke="#7f7f7f" stroke-width="0.6" fill="none"/>
<text x="250.5" y="60.10" font-size="5.5" font-weight="normal" text-anchor="middle" fill="#333333" stroke="#333333" stroke-width="0.1" >3.75</text>
<path d="M239.2,51.5 V57.5 H243" stroke="#7f7f7f" stroke-width="0.6" fill="none"/>
<rect x="394.5" y="7.8" width="14.00" height="15.70" fill="#fff" stroke="#303030" stroke-width="1.1"/>
<text x="401.50" y="18.85" font-size="9" font-weight="bold" text-anchor="middle" fill="#000" stroke="#000" stroke-width="0.18" >g</text>
<text x="452.9" y="17.3" font-size="9.2" font-weight="bold" stroke="#000" stroke-width="0.18">H<tspan font-size="5.6" dy="0.4">2</tspan></text>
<polyline points="392.20,81.2 400.38,78.8 408.56,66.0 416.73,65.0 441.27,65.8 457.62,65.8 490.33,65.8 506.69,65.8 539.40,65.8" fill="none" stroke="#12286F" stroke-width="2.2" stroke-linejoin="round"/>
<circle cx="392.20" cy="81.2" r="2.3" fill="#12286F"/>
<circle cx="400.38" cy="78.8" r="2.3" fill="#12286F"/>
<circle cx="408.56" cy="66.0" r="2.3" fill="#12286F"/>
<circle cx="416.73" cy="65.0" r="2.3" fill="#12286F"/>
<circle cx="441.27" cy="65.8" r="2.3" fill="#12286F"/>
<circle cx="457.62" cy="65.8" r="2.3" fill="#12286F"/>
<circle cx="490.33" cy="65.8" r="2.3" fill="#12286F"/>
<circle cx="506.69" cy="65.8" r="2.3" fill="#12286F"/>
<circle cx="539.40" cy="65.8" r="2.3" fill="#12286F"/>
<polyline points="392.20,81.2 400.38,78.8 408.56,70.5 416.73,67.2 441.27,62.5 457.62,62.5 490.33,62.5 506.69,62.5 539.40,62.5" fill="none" stroke="#C8501A" stroke-width="2.2" stroke-linejoin="round"/>
<circle cx="392.20" cy="81.2" r="2.3" fill="#C8501A"/>
<circle cx="400.38" cy="78.8" r="2.3" fill="#C8501A"/>
<circle cx="408.56" cy="70.5" r="2.3" fill="#C8501A"/>
<circle cx="416.73" cy="67.2" r="2.3" fill="#C8501A"/>
<circle cx="441.27" cy="62.5" r="2.3" fill="#C8501A"/>
<circle cx="457.62" cy="62.5" r="2.3" fill="#C8501A"/>
<circle cx="490.33" cy="62.5" r="2.3" fill="#C8501A"/>
<circle cx="506.69" cy="62.5" r="2.3" fill="#C8501A"/>
<circle cx="539.40" cy="62.5" r="2.3" fill="#C8501A"/>
<text x="406.5" y="51.00" font-size="5.5" font-weight="normal" text-anchor="middle" fill="#333333" stroke="#333333" stroke-width="0.1" >1.60</text>
<path d="M406.8,52.5 L408.5,64.5" stroke="#7f7f7f" stroke-width="0.6" fill="none"/>
<text x="430" y="54.80" font-size="5.5" font-weight="normal" text-anchor="middle" fill="#333333" stroke="#333333" stroke-width="0.1" >1.85</text>
<path d="M417.5,64 L420.5,53 H423.5" stroke="#7f7f7f" stroke-width="0.6" fill="none"/>
<text x="419.5" y="77.80" font-size="5.5" font-weight="normal" text-anchor="middle" fill="#333333" stroke="#333333" stroke-width="0.1" >1.10</text>
<path d="M409.5,71.5 L410.5,75.3 H413" stroke="#7f7f7f" stroke-width="0.6" fill="none"/>
<text x="440.8" y="75.30" font-size="5.5" font-weight="normal" text-anchor="middle" fill="#333333" stroke="#333333" stroke-width="0.1" >1.51</text>
<path d="M420,68.5 L432.5,73.5 H434.5" stroke="#7f7f7f" stroke-width="0.6" fill="none"/>
<rect x="31.2" y="106.8" width="14.90" height="16.80" fill="#fff" stroke="#303030" stroke-width="1.1"/>
<text x="38.65" y="118.40" font-size="9" font-weight="bold" text-anchor="middle" fill="#000" stroke="#000" stroke-width="0.18" >b</text>
<text x="87.3" y="115.2" font-size="9.2" font-weight="bold" stroke="#000" stroke-width="0.18">CH<tspan font-size="5.6" dy="0.4">4</tspan></text>
<polyline points="29.70,176.5 37.89,175.8 46.08,175.3 54.27,174.0 78.83,163.0 95.21,159.5 127.97,148.7 144.34,142.2 177.10,132.3" fill="none" stroke="#7425AC" stroke-width="2.2" stroke-linejoin="round"/>
<circle cx="29.70" cy="176.5" r="2.3" fill="#7425AC"/>
<circle cx="37.89" cy="175.8" r="2.3" fill="#7425AC"/>
<circle cx="46.08" cy="175.3" r="2.3" fill="#7425AC"/>
<circle cx="54.27" cy="174.0" r="2.3" fill="#7425AC"/>
<circle cx="78.83" cy="163.0" r="2.3" fill="#7425AC"/>
<circle cx="95.21" cy="159.5" r="2.3" fill="#7425AC"/>
<circle cx="127.97" cy="148.7" r="2.3" fill="#7425AC"/>
<circle cx="144.34" cy="142.2" r="2.3" fill="#7425AC"/>
<circle cx="177.10" cy="132.3" r="2.3" fill="#7425AC"/>
<polyline points="29.70,176.5 37.89,175.8 46.08,175.3 54.27,174.2 78.83,163.3 95.21,163.5 127.97,153.5 144.34,152.3 177.10,142.0" fill="none" stroke="#FF7722" stroke-width="2.2" stroke-linejoin="round"/>
<circle cx="29.70" cy="176.5" r="2.3" fill="#FF7722"/>
<circle cx="37.89" cy="175.8" r="2.3" fill="#FF7722"/>
<circle cx="46.08" cy="175.3" r="2.3" fill="#FF7722"/>
<circle cx="54.27" cy="174.2" r="2.3" fill="#FF7722"/>
<circle cx="78.83" cy="163.3" r="2.3" fill="#FF7722"/>
<circle cx="95.21" cy="163.5" r="2.3" fill="#FF7722"/>
<circle cx="127.97" cy="153.5" r="2.3" fill="#FF7722"/>
<circle cx="144.34" cy="152.3" r="2.3" fill="#FF7722"/>
<circle cx="177.10" cy="142.0" r="2.3" fill="#FF7722"/>
<path d="M142.84444444444443,149.2H145.84444444444443M144.34444444444443,149.2V154.8M142.84444444444443,154.8H145.84444444444443" stroke="#404040" stroke-width="0.8" fill="none"/>
<text x="52.5" y="161.80" font-size="5.5" font-weight="normal" text-anchor="middle" fill="#333333" stroke="#333333" stroke-width="0.1" >1.45</text>
<path d="M52.2,163.5 L53.5,172" stroke="#7f7f7f" stroke-width="0.6" fill="none"/>
<text x="68.5" y="174.10" font-size="5.5" font-weight="normal" text-anchor="middle" fill="#333333" stroke="#333333" stroke-width="0.1" >1.50</text>
<text x="74" y="147.80" font-size="5.5" font-weight="normal" text-anchor="middle" fill="#333333" stroke="#333333" stroke-width="0.1" >6.23</text>
<path d="M74.5,149.5 L78,161" stroke="#7f7f7f" stroke-width="0.6" fill="none"/>
<text x="92.8" y="171.30" font-size="5.5" font-weight="normal" text-anchor="middle" fill="#333333" stroke="#333333" stroke-width="0.1" >6.64</text>
<path d="M79,164.5 L82.8,169.5 H86" stroke="#7f7f7f" stroke-width="0.6" fill="none"/>
<text x="117.5" y="139.80" font-size="5.5" font-weight="normal" text-anchor="middle" fill="#333333" stroke="#333333" stroke-width="0.1" >13.74</text>
<path d="M118.5,141.5 L126,147" stroke="#7f7f7f" stroke-width="0.6" fill="none"/>
<text x="131.5" y="167.80" font-size="5.5" font-weight="normal" text-anchor="middle" fill="#333333" stroke="#333333" stroke-width="0.1" >11.40</text>
<path d="M128,155 L131.5,161.5" stroke="#7f7f7f" stroke-width="0.6" fill="none"/>
<text x="160" y="124.80" font-size="5.5" font-weight="normal" text-anchor="middle" fill="#333333" stroke="#333333" stroke-width="0.1" >22.44</text>
<path d="M168.5,122.3 H171.5 L176,130.5" stroke="#7f7f7f" stroke-width="0.6" fill="none"/>
<text x="169.5" y="158.80" font-size="5.5" font-weight="normal" text-anchor="middle" fill="#333333" stroke="#333333" stroke-width="0.1" >17.8</text>
<path d="M170.5,152.5 L176,143.5" stroke="#7f7f7f" stroke-width="0.6" fill="none"/>
<rect x="213.6" y="104.4" width="14.20" height="14.80" fill="#fff" stroke="#303030" stroke-width="1.1"/>
<text x="220.70" y="115.00" font-size="9" font-weight="bold" text-anchor="middle" fill="#000" stroke="#000" stroke-width="0.18" >e</text>
<text x="265.4" y="112.9" font-size="9.2" font-weight="bold" stroke="#000" stroke-width="0.18">CH<tspan font-size="5.6" dy="0.4">4</tspan></text>
<polyline points="212.10,176.3 220.12,175.8 228.13,175.3 236.15,175.5 260.20,162.5 276.23,163.0 308.30,153.5 324.33,153.5 356.40,145.5" fill="none" stroke="#FFC000" stroke-width="2.2" stroke-linejoin="round"/>
<circle cx="212.10" cy="176.3" r="2.3" fill="#FFC000"/>
<circle cx="220.12" cy="175.8" r="2.3" fill="#FFC000"/>
<circle cx="228.13" cy="175.3" r="2.3" fill="#FFC000"/>
<circle cx="236.15" cy="175.5" r="2.3" fill="#FFC000"/>
<circle cx="260.20" cy="162.5" r="2.3" fill="#FFC000"/>
<circle cx="276.23" cy="163.0" r="2.3" fill="#FFC000"/>
<circle cx="308.30" cy="153.5" r="2.3" fill="#FFC000"/>
<circle cx="324.33" cy="153.5" r="2.3" fill="#FFC000"/>
<circle cx="356.40" cy="145.5" r="2.3" fill="#FFC000"/>
<polyline points="212.10,176.3 220.12,175.8 228.13,174.5 236.15,172.8 260.20,159.0 276.23,159.3 308.30,149.5 324.33,148.8 356.40,139.2" fill="none" stroke="#1170D0" stroke-width="2.2" stroke-linejoin="round"/>
<circle cx="212.10" cy="176.3" r="2.3" fill="#1170D0"/>
<circle cx="220.12" cy="175.8" r="2.3" fill="#1170D0"/>
<circle cx="228.13" cy="174.5" r="2.3" fill="#1170D0"/>
<circle cx="236.15" cy="172.8" r="2.3" fill="#1170D0"/>
<circle cx="260.20" cy="159.0" r="2.3" fill="#1170D0"/>
<circle cx="276.23" cy="159.3" r="2.3" fill="#1170D0"/>
<circle cx="308.30" cy="149.5" r="2.3" fill="#1170D0"/>
<circle cx="324.33" cy="148.8" r="2.3" fill="#1170D0"/>
<circle cx="356.40" cy="139.2" r="2.3" fill="#1170D0"/>
<text x="234" y="161.80" font-size="5.5" font-weight="normal" text-anchor="middle" fill="#333333" stroke="#333333" stroke-width="0.1" >1.64</text>
<path d="M234,163.5 L236,171.5" stroke="#7f7f7f" stroke-width="0.6" fill="none"/>
<text x="253" y="170.80" font-size="5.5" font-weight="normal" text-anchor="middle" fill="#333333" stroke="#333333" stroke-width="0.1" >1.04</text>
<text x="255.5" y="147.30" font-size="5.5" font-weight="normal" text-anchor="middle" fill="#333333" stroke="#333333" stroke-width="0.1" >8.04</text>
<path d="M256,149.5 L259.5,157" stroke="#7f7f7f" stroke-width="0.6" fill="none"/>
<text x="272" y="170.30" font-size="5.5" font-weight="normal" text-anchor="middle" fill="#333333" stroke="#333333" stroke-width="0.1" >6.62</text>
<path d="M261,164 L263.5,168.5 H266" stroke="#7f7f7f" stroke-width="0.6" fill="none"/>
<text x="307" y="139.30" font-size="5.5" font-weight="normal" text-anchor="middle" fill="#333333" stroke="#333333" stroke-width="0.1" >12.67</text>
<path d="M307.5,141.5 V148" stroke="#7f7f7f" stroke-width="0.6" fill="none"/>
<text x="309.3" y="168.30" font-size="5.5" font-weight="normal" text-anchor="middle" fill="#333333" stroke="#333333" stroke-width="0.1" >10.54</text>
<path d="M309,155 L309.5,161.5" stroke="#7f7f7f" stroke-width="0.6" fill="none"/>
<text x="339" y="131.30" font-size="5.5" font-weight="normal" text-anchor="middle" fill="#333333" stroke="#333333" stroke-width="0.1" >18.26</text>
<path d="M348.5,128.5 H350.5 L355,137" stroke="#7f7f7f" stroke-width="0.6" fill="none"/>
<text x="349" y="159.80" font-size="5.5" font-weight="normal" text-anchor="middle" fill="#333333" stroke="#333333" stroke-width="0.1" >14.65</text>
<path d="M349.5,153 L355,147" stroke="#7f7f7f" stroke-width="0.6" fill="none"/>
<rect x="394.2" y="101.2" width="14.80" height="15.80" fill="#fff" stroke="#303030" stroke-width="1.1"/>
<text x="401.60" y="112.30" font-size="9" font-weight="bold" text-anchor="middle" fill="#000" stroke="#000" stroke-width="0.18" >h</text>
<text x="448.7" y="110.7" font-size="9.2" font-weight="bold" stroke="#000" stroke-width="0.18">CH<tspan font-size="5.6" dy="0.4">4</tspan></text>
<text x="433.5" y="170.20" font-size="5.5" font-weight="normal" text-anchor="middle" fill="#333333" stroke="#333333" stroke-width="0.1" >0.45</text>
<polyline points="391.80,173.5 399.98,173.0 408.17,172.5 416.35,172.3 440.90,162.0 457.27,162.3 490.00,153.8 506.37,152.0 539.10,148.0" fill="none" stroke="#12286F" stroke-width="2.2" stroke-linejoin="round"/>
<circle cx="391.80" cy="173.5" r="2.3" fill="#12286F"/>
<circle cx="399.98" cy="173.0" r="2.3" fill="#12286F"/>
<circle cx="408.17" cy="172.5" r="2.3" fill="#12286F"/>
<circle cx="416.35" cy="172.3" r="2.3" fill="#12286F"/>
<circle cx="440.90" cy="162.0" r="2.3" fill="#12286F"/>
<circle cx="457.27" cy="162.3" r="2.3" fill="#12286F"/>
<circle cx="490.00" cy="153.8" r="2.3" fill="#12286F"/>
<circle cx="506.37" cy="152.0" r="2.3" fill="#12286F"/>
<circle cx="539.10" cy="148.0" r="2.3" fill="#12286F"/>
<polyline points="391.80,173.5 399.98,173.2 408.17,173.0 416.35,173.0 440.90,163.5 457.27,163.0 490.00,157.5 506.37,153.5 539.10,146.2" fill="none" stroke="#C8501A" stroke-width="2.2" stroke-linejoin="round"/>
<circle cx="391.80" cy="173.5" r="2.3" fill="#C8501A"/>
<circle cx="399.98" cy="173.2" r="2.3" fill="#C8501A"/>
<circle cx="408.17" cy="173.0" r="2.3" fill="#C8501A"/>
<circle cx="416.35" cy="173.0" r="2.3" fill="#C8501A"/>
<circle cx="440.90" cy="163.5" r="2.3" fill="#C8501A"/>
<circle cx="457.27" cy="163.0" r="2.3" fill="#C8501A"/>
<circle cx="490.00" cy="157.5" r="2.3" fill="#C8501A"/>
<circle cx="506.37" cy="153.5" r="2.3" fill="#C8501A"/>
<circle cx="539.10" cy="146.2" r="2.3" fill="#C8501A"/>
<text x="423.3" y="144.80" font-size="5.5" font-weight="normal" text-anchor="middle" fill="#333333" stroke="#333333" stroke-width="0.1" >0.82</text>
<path d="M423.5,146.8 L416.8,171" stroke="#7f7f7f" stroke-width="0.6" fill="none"/>
<text x="451" y="150.30" font-size="5.5" font-weight="normal" text-anchor="middle" fill="#333333" stroke="#333333" stroke-width="0.1" >5.28</text>
<path d="M450.5,152.3 L443,160.5" stroke="#7f7f7f" stroke-width="0.6" fill="none"/>
<text x="458.4" y="171.80" font-size="5.5" font-weight="normal" text-anchor="middle" fill="#333333" stroke="#333333" stroke-width="0.1" >4.71</text>
<path d="M442,164.5 L447,169.5 H451.5" stroke="#7f7f7f" stroke-width="0.6" fill="none"/>
<text x="479" y="140.80" font-size="5.5" font-weight="normal" text-anchor="middle" fill="#333333" stroke="#333333" stroke-width="0.1" >9.47</text>
<path d="M486,137.5 H489.5 L490.5,151" stroke="#7f7f7f" stroke-width="0.6" fill="none"/>
<text x="492" y="168.80" font-size="5.5" font-weight="normal" text-anchor="middle" fill="#333333" stroke="#333333" stroke-width="0.1" >7.84</text>
<path d="M490.2,158.5 L490.7,163.5" stroke="#7f7f7f" stroke-width="0.6" fill="none"/>
<text x="532" y="137.30" font-size="5.5" font-weight="normal" text-anchor="middle" fill="#333333" stroke="#333333" stroke-width="0.1" >13.29</text>
<path d="M533,139 L538.5,145" stroke="#7f7f7f" stroke-width="0.6" fill="none"/>
<text x="520" y="165.30" font-size="5.5" font-weight="normal" text-anchor="middle" fill="#333333" stroke="#333333" stroke-width="0.1" >14.77</text>
<path d="M527,163 H530.5 L538.8,148.5" stroke="#7f7f7f" stroke-width="0.6" fill="none"/>
<rect x="30.2" y="199.2" width="14.00" height="16.00" fill="#fff" stroke="#303030" stroke-width="1.1"/>
<text x="37.20" y="210.40" font-size="9" font-weight="bold" text-anchor="middle" fill="#000" stroke="#000" stroke-width="0.18" >c</text>
<text x="86" y="208.2" font-size="9.2" font-weight="bold" stroke="#000" stroke-width="0.18">CO<tspan font-size="5.6" dy="0.4">2</tspan></text>
<polyline points="28.70,263.7 36.93,251.0 45.16,245.5 53.38,237.3 78.07,234.8 94.52,229.2 127.43,226.2 143.89,218.8 176.80,215.0" fill="none" stroke="#7425AC" stroke-width="2.2" stroke-linejoin="round"/>
<circle cx="28.70" cy="263.7" r="2.3" fill="#7425AC"/>
<circle cx="36.93" cy="251.0" r="2.3" fill="#7425AC"/>
<circle cx="45.16" cy="245.5" r="2.3" fill="#7425AC"/>
<circle cx="53.38" cy="237.3" r="2.3" fill="#7425AC"/>
<circle cx="78.07" cy="234.8" r="2.3" fill="#7425AC"/>
<circle cx="94.52" cy="229.2" r="2.3" fill="#7425AC"/>
<circle cx="127.43" cy="226.2" r="2.3" fill="#7425AC"/>
<circle cx="143.89" cy="218.8" r="2.3" fill="#7425AC"/>
<circle cx="176.80" cy="215.0" r="2.3" fill="#7425AC"/>
<polyline points="28.70,263.7 36.93,251.5 45.16,249.0 53.38,240.2 78.07,237.0 94.52,237.0 127.43,230.5 143.89,228.5 176.80,221.5" fill="none" stroke="#FF7722" stroke-width="2.2" stroke-linejoin="round"/>
<circle cx="28.70" cy="263.7" r="2.3" fill="#FF7722"/>
<circle cx="36.93" cy="251.5" r="2.3" fill="#FF7722"/>
<circle cx="45.16" cy="249.0" r="2.3" fill="#FF7722"/>
<circle cx="53.38" cy="240.2" r="2.3" fill="#FF7722"/>
<circle cx="78.07" cy="237.0" r="2.3" fill="#FF7722"/>
<circle cx="94.52" cy="237.0" r="2.3" fill="#FF7722"/>
<circle cx="127.43" cy="230.5" r="2.3" fill="#FF7722"/>
<circle cx="143.89" cy="228.5" r="2.3" fill="#FF7722"/>
<circle cx="176.80" cy="221.5" r="2.3" fill="#FF7722"/>
<path d="M93.02222222222224,226.2H96.02222222222224M94.52222222222224,226.2V232.2M93.02222222222224,232.2H96.02222222222224" stroke="#404040" stroke-width="0.8" fill="none"/>
<path d="M142.3888888888889,225.2H145.3888888888889M143.8888888888889,225.2V231.2M142.3888888888889,231.2H145.3888888888889" stroke="#404040" stroke-width="0.8" fill="none"/>
<text x="53.3" y="230.80" font-size="5.5" font-weight="normal" text-anchor="middle" fill="#333333" stroke="#333333" stroke-width="0.1" >13.84</text>
<text x="60.5" y="251.80" font-size="5.5" font-weight="normal" text-anchor="middle" fill="#333333" stroke="#333333" stroke-width="0.1" >12.41</text>
<path d="M53.8,240.5 L60,245.5" stroke="#7f7f7f" stroke-width="0.6" fill="none"/>
<text x="77.8" y="228.30" font-size="5.5" font-weight="normal" text-anchor="middle" fill="#333333" stroke="#333333" stroke-width="0.1" >15.18</text>
<text x="81" y="254.80" font-size="5.5" font-weight="normal" text-anchor="middle" fill="#333333" stroke="#333333" stroke-width="0.1" >14.20</text>
<path d="M77.8,237.5 L81,248" stroke="#7f7f7f" stroke-width="0.6" fill="none"/>
<text x="110.9" y="218.80" font-size="5.5" font-weight="normal" text-anchor="middle" fill="#333333" stroke="#333333" stroke-width="0.1" >19.66</text>
<path d="M119.5,216.5 H122.5 L127,224.8" stroke="#7f7f7f" stroke-width="0.6" fill="none"/>
<text x="116.5" y="252.30" font-size="5.5" font-weight="normal" text-anchor="middle" fill="#333333" stroke="#333333" stroke-width="0.1" >17.61</text>
<path d="M117,245.5 L127,231.5" stroke="#7f7f7f" stroke-width="0.6" fill="none"/>
<text x="161" y="207.80" font-size="5.5" font-weight="normal" text-anchor="middle" fill="#333333" stroke="#333333" stroke-width="0.1" >25.52</text>
<path d="M169.5,205 H172.5 L176,212.5" stroke="#7f7f7f" stroke-width="0.6" fill="none"/>
<text x="165.5" y="237.80" font-size="5.5" font-weight="normal" text-anchor="middle" fill="#333333" stroke="#333333" stroke-width="0.1" >23.12</text>
<path d="M165,232 L175,223" stroke="#7f7f7f" stroke-width="0.6" fill="none"/>
<rect x="212" y="196" width="14.00" height="16.00" fill="#fff" stroke="#303030" stroke-width="1.1"/>
<text x="219.00" y="207.20" font-size="9" font-weight="bold" text-anchor="middle" fill="#000" stroke="#000" stroke-width="0.18" >f</text>
<text x="267.4" y="203.2" font-size="9.2" font-weight="bold" stroke="#000" stroke-width="0.18">CO<tspan font-size="5.6" dy="0.4">2</tspan></text>
<polyline points="210.30,260.5 218.52,248.5 226.74,245.5 234.97,241.5 259.63,235.0 276.08,233.0 308.97,227.5 325.41,228.0 358.30,223.5" fill="none" stroke="#FFC000" stroke-width="2.2" stroke-linejoin="round"/>
<circle cx="210.30" cy="260.5" r="2.3" fill="#FFC000"/>
<circle cx="218.52" cy="248.5" r="2.3" fill="#FFC000"/>
<circle cx="226.74" cy="245.5" r="2.3" fill="#FFC000"/>
<circle cx="234.97" cy="241.5" r="2.3" fill="#FFC000"/>
<circle cx="259.63" cy="235.0" r="2.3" fill="#FFC000"/>
<circle cx="276.08" cy="233.0" r="2.3" fill="#FFC000"/>
<circle cx="308.97" cy="227.5" r="2.3" fill="#FFC000"/>
<circle cx="325.41" cy="228.0" r="2.3" fill="#FFC000"/>
<circle cx="358.30" cy="223.5" r="2.3" fill="#FFC000"/>
<polyline points="210.30,260.5 218.52,250.5 226.74,245.0 234.97,239.0 259.63,232.3 276.08,232.3 308.97,222.7 325.41,220.5 358.30,213.5" fill="none" stroke="#1170D0" stroke-width="2.2" stroke-linejoin="round"/>
<circle cx="210.30" cy="260.5" r="2.3" fill="#1170D0"/>
<circle cx="218.52" cy="250.5" r="2.3" fill="#1170D0"/>
<circle cx="226.74" cy="245.0" r="2.3" fill="#1170D0"/>
<circle cx="234.97" cy="239.0" r="2.3" fill="#1170D0"/>
<circle cx="259.63" cy="232.3" r="2.3" fill="#1170D0"/>
<circle cx="276.08" cy="232.3" r="2.3" fill="#1170D0"/>
<circle cx="308.97" cy="222.7" r="2.3" fill="#1170D0"/>
<circle cx="325.41" cy="220.5" r="2.3" fill="#1170D0"/>
<circle cx="358.30" cy="213.5" r="2.3" fill="#1170D0"/>
<path d="M307.4666666666667,219.5H310.4666666666667M308.9666666666667,219.5V225.5M307.4666666666667,225.5H310.4666666666667" stroke="#404040" stroke-width="0.8" fill="none"/>
<path d="M323.91111111111115,216.8H326.91111111111115M325.41111111111115,216.8V223.8M323.91111111111115,223.8H326.91111111111115" stroke="#404040" stroke-width="0.8" fill="none"/>
<text x="236.8" y="252.30" font-size="5.5" font-weight="normal" text-anchor="middle" fill="#333333" stroke="#333333" stroke-width="0.1" >9.96</text>
<path d="M236,243.5 L237,246.5" stroke="#7f7f7f" stroke-width="0.6" fill="none"/>
<text x="223.8" y="230.80" font-size="5.5" font-weight="normal" text-anchor="middle" fill="#333333" stroke="#333333" stroke-width="0.1" >11.38</text>
<path d="M224,232.5 L234,238" stroke="#7f7f7f" stroke-width="0.6" fill="none"/>
<text x="252.3" y="223.80" font-size="5.5" font-weight="normal" text-anchor="middle" fill="#333333" stroke="#333333" stroke-width="0.1" >14.82</text>
<path d="M253,225.5 L258.5,231" stroke="#7f7f7f" stroke-width="0.6" fill="none"/>
<text x="256.5" y="251.80" font-size="5.5" font-weight="normal" text-anchor="middle" fill="#333333" stroke="#333333" stroke-width="0.1" >13.86</text>
<path d="M257,245 L259,236" stroke="#7f7f7f" stroke-width="0.6" fill="none"/>
<text x="288.8" y="214.80" font-size="5.5" font-weight="normal" text-anchor="middle" fill="#333333" stroke="#333333" stroke-width="0.1" >19.77</text>
<path d="M297.5,212 H300.5 L305,221.5" stroke="#7f7f7f" stroke-width="0.6" fill="none"/>
<text x="298.5" y="244.80" font-size="5.5" font-weight="normal" text-anchor="middle" fill="#333333" stroke="#333333" stroke-width="0.1" >16.95</text>
<path d="M298,238.5 L305,231" stroke="#7f7f7f" stroke-width="0.6" fill="none"/>
<text x="339.3" y="205.80" font-size="5.5" font-weight="normal" text-anchor="middle" fill="#333333" stroke="#333333" stroke-width="0.1" >24.69</text>
<path d="M347.5,203 H350.5 L356,212" stroke="#7f7f7f" stroke-width="0.6" fill="none"/>
<text x="347.5" y="237.30" font-size="5.5" font-weight="normal" text-anchor="middle" fill="#333333" stroke="#333333" stroke-width="0.1" >19.49</text>
<path d="M348,230.5 L356,224" stroke="#7f7f7f" stroke-width="0.6" fill="none"/>
<rect x="395" y="196" width="13.20" height="16.00" fill="#fff" stroke="#303030" stroke-width="1.1"/>
<text x="401.60" y="207.20" font-size="9" font-weight="bold" text-anchor="middle" fill="#000" stroke="#000" stroke-width="0.18" >i</text>
<text x="451.7" y="203.7" font-size="9.2" font-weight="bold" stroke="#000" stroke-width="0.18">CO<tspan font-size="5.6" dy="0.4">2</tspan></text>
<polyline points="393.50,259.5 401.71,249.0 409.92,246.0 418.13,245.0 442.77,238.0 459.19,238.0 492.03,233.0 508.46,229.5 541.30,229.3" fill="none" stroke="#12286F" stroke-width="2.2" stroke-linejoin="round"/>
<circle cx="393.50" cy="259.5" r="2.3" fill="#12286F"/>
<circle cx="401.71" cy="249.0" r="2.3" fill="#12286F"/>
<circle cx="409.92" cy="246.0" r="2.3" fill="#12286F"/>
<circle cx="418.13" cy="245.0" r="2.3" fill="#12286F"/>
<circle cx="442.77" cy="238.0" r="2.3" fill="#12286F"/>
<circle cx="459.19" cy="238.0" r="2.3" fill="#12286F"/>
<circle cx="492.03" cy="233.0" r="2.3" fill="#12286F"/>
<circle cx="508.46" cy="229.5" r="2.3" fill="#12286F"/>
<circle cx="541.30" cy="229.3" r="2.3" fill="#12286F"/>
<polyline points="393.50,259.5 401.71,248.0 409.92,243.5 418.13,239.5 442.77,239.5 459.19,231.5 492.03,230.5 508.46,228.7 541.30,225.3" fill="none" stroke="#C8501A" stroke-width="2.2" stroke-linejoin="round"/>
<circle cx="393.50" cy="259.5" r="2.3" fill="#C8501A"/>
<circle cx="401.71" cy="248.0" r="2.3" fill="#C8501A"/>
<circle cx="409.92" cy="243.5" r="2.3" fill="#C8501A"/>
<circle cx="418.13" cy="239.5" r="2.3" fill="#C8501A"/>
<circle cx="442.77" cy="239.5" r="2.3" fill="#C8501A"/>
<circle cx="459.19" cy="231.5" r="2.3" fill="#C8501A"/>
<circle cx="492.03" cy="230.5" r="2.3" fill="#C8501A"/>
<circle cx="508.46" cy="228.7" r="2.3" fill="#C8501A"/>
<circle cx="541.30" cy="225.3" r="2.3" fill="#C8501A"/>
<path d="M441.26666666666665,234.5H444.26666666666665M442.76666666666665,234.5V240.5M441.26666666666665,240.5H444.26666666666665" stroke="#404040" stroke-width="0.8" fill="none"/>
<path d="M457.68888888888887,234.5H460.68888888888887M459.18888888888887,234.5V241.5M457.68888888888887,241.5H460.68888888888887" stroke="#404040" stroke-width="0.8" fill="none"/>
<path d="M490.5333333333333,230.5H493.5333333333333M492.0333333333333,230.5V236.5M490.5333333333333,236.5H493.5333333333333" stroke="#404040" stroke-width="0.8" fill="none"/>
<path d="M506.9555555555555,226.0H509.9555555555555M508.4555555555555,226.0V232.0M506.9555555555555,232.0H509.9555555555555" stroke="#404040" stroke-width="0.8" fill="none"/>
<text x="408.5" y="231.80" font-size="5.5" font-weight="normal" text-anchor="middle" fill="#333333" stroke="#333333" stroke-width="0.1" >10.64</text>
<path d="M409,233.5 L417,239" stroke="#7f7f7f" stroke-width="0.6" fill="none"/>
<text x="427.5" y="255.80" font-size="5.5" font-weight="normal" text-anchor="middle" fill="#333333" stroke="#333333" stroke-width="0.1" >8.21</text>
<path d="M420,246 L428,250" stroke="#7f7f7f" stroke-width="0.6" fill="none"/>
<text x="428.5" y="228.80" font-size="5.5" font-weight="normal" text-anchor="middle" fill="#333333" stroke="#333333" stroke-width="0.1" >11.65</text>
<path d="M437.5,226.5 H440.5 L442.5,236" stroke="#7f7f7f" stroke-width="0.6" fill="none"/>
<text x="449.5" y="255.30" font-size="5.5" font-weight="normal" text-anchor="middle" fill="#333333" stroke="#333333" stroke-width="0.1" >10.64</text>
<path d="M442.5,240.5 L449.5,248.5" stroke="#7f7f7f" stroke-width="0.6" fill="none"/>
<text x="473.3" y="222.30" font-size="5.5" font-weight="normal" text-anchor="middle" fill="#333333" stroke="#333333" stroke-width="0.1" >15.63</text>
<path d="M481.5,219 H484.5 L491.5,228.5" stroke="#7f7f7f" stroke-width="0.6" fill="none"/>
<text x="481.3" y="249.30" font-size="5.5" font-weight="normal" text-anchor="middle" fill="#333333" stroke="#333333" stroke-width="0.1" >14.39</text>
<path d="M482,242.5 L491,234" stroke="#7f7f7f" stroke-width="0.6" fill="none"/>
<text x="523.8" y="214.30" font-size="5.5" font-weight="normal" text-anchor="middle" fill="#333333" stroke="#333333" stroke-width="0.1" >21.5</text>
<path d="M531.5,212 H534.5 L540,223" stroke="#7f7f7f" stroke-width="0.6" fill="none"/>
<text x="530.5" y="242.30" font-size="5.5" font-weight="normal" text-anchor="middle" fill="#333333" stroke="#333333" stroke-width="0.1" >18.01</text>
<path d="M530.5,236 L540,230.5" stroke="#7f7f7f" stroke-width="0.6" fill="none"/>
<line x1="26.2" y1="290.8" x2="42.0" y2="290.8" stroke="#7425AC" stroke-width="2"/>
<circle cx="34.10" cy="290.8" r="2.1" fill="#7425AC"/>
<text x="43.5" y="293.60" font-size="7.75" font-weight="bold" stroke="#000" stroke-width="0.18">CON1 / 10%VFAs</text>
<line x1="127.6" y1="290.8" x2="142.5" y2="290.8" stroke="#FF7722" stroke-width="2"/>
<circle cx="135.05" cy="290.8" r="2.1" fill="#FF7722"/>
<text x="144.0" y="293.60" font-size="7.75" font-weight="bold" stroke="#000" stroke-width="0.18">CON1</text>
<line x1="207.2" y1="288.6" x2="222.8" y2="288.6" stroke="#FFC000" stroke-width="2"/>
<circle cx="215.00" cy="288.6" r="2.1" fill="#FFC000"/>
<text x="224.3" y="291.40" font-size="7.75" font-weight="bold" stroke="#000" stroke-width="0.18">CON2 / 20%VFAs</text>
<line x1="307.6" y1="288.6" x2="322.8" y2="288.6" stroke="#1170D0" stroke-width="2"/>
<circle cx="315.20" cy="288.6" r="2.1" fill="#1170D0"/>
<text x="324.3" y="291.40" font-size="7.75" font-weight="bold" stroke="#000" stroke-width="0.18">CON2</text>
<line x1="389.2" y1="288.1" x2="405.2" y2="288.1" stroke="#12286F" stroke-width="2"/>
<circle cx="397.20" cy="288.1" r="2.1" fill="#12286F"/>
<text x="406.7" y="290.90" font-size="7.75" font-weight="bold" stroke="#000" stroke-width="0.18">CON3 / 30% VFAs</text>
<line x1="489.6" y1="288.1" x2="505.2" y2="288.1" stroke="#C8501A" stroke-width="2"/>
<circle cx="497.40" cy="288.1" r="2.1" fill="#C8501A"/>
<text x="506.7" y="290.90" font-size="7.75" font-weight="bold" stroke="#000" stroke-width="0.18">CON3</text>
</svg>
</body></html>
